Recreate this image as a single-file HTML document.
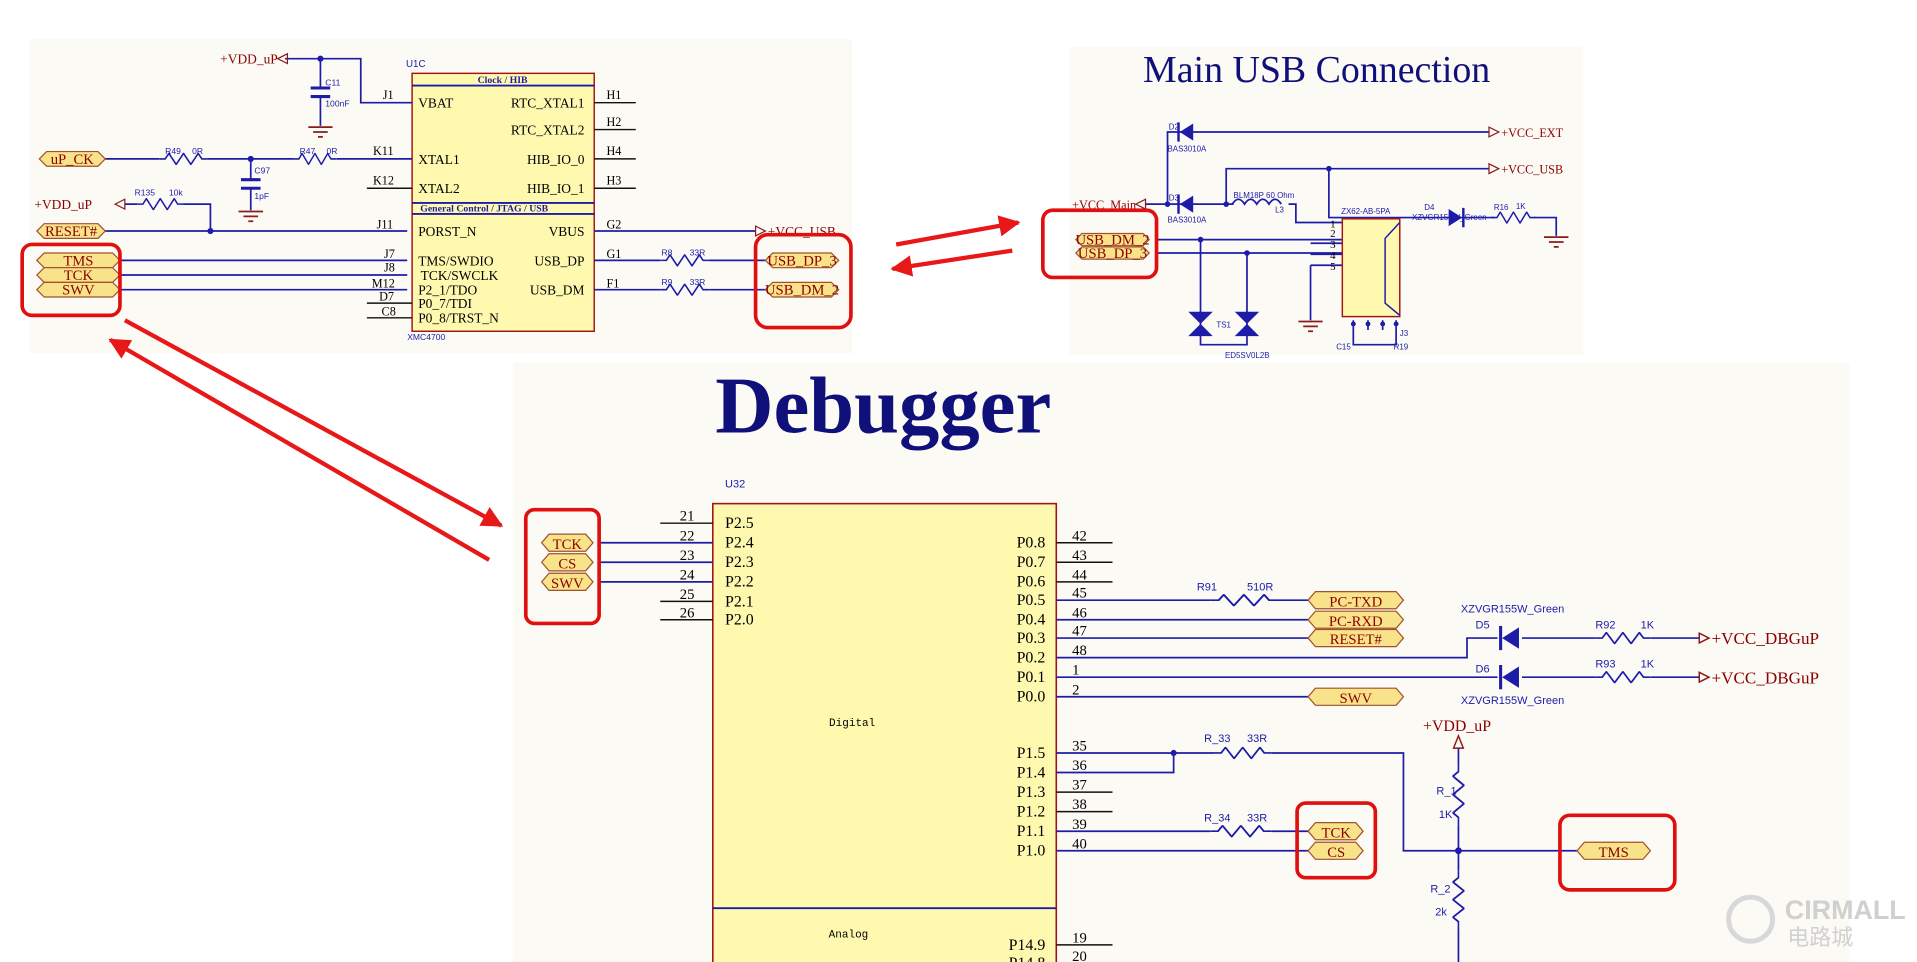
<!DOCTYPE html>
<html><head><meta charset="utf-8"><style>
html,body{margin:0;padding:0;background:#fff;}
svg{display:block}
.w{stroke:#1c1ca8;stroke-width:1.4;fill:none}
.p{stroke:#111;stroke-width:1.2;fill:none}
.t{font-family:"Liberation Serif",serif;fill:#000}
.s{font-family:"Liberation Sans",sans-serif;fill:#1c1ca8}
.lb{fill:#f9e38a;stroke:#a0522d;stroke-width:1}
.lt{font-family:"Liberation Serif",serif;fill:#8b0000;font-size:12px}
.pw{font-family:"Liberation Serif",serif;fill:#8b0000}
.rb{fill:none;stroke:#e01010;stroke-width:3}
.ar{stroke:#e81818;stroke-width:3.5;fill:none}
</style></head><body>
<svg width="1917" height="962" viewBox="0 0 1568 787" xmlns="http://www.w3.org/2000/svg">
<defs>
<symbol id="res" viewBox="0 0 40 10" preserveAspectRatio="none"><polyline points="0,5 5,5 8,0.5 14,9.5 20,0.5 26,9.5 32,0.5 35,5 40,5" fill="none" stroke="#1c1ca8" stroke-width="1.3"/></symbol>
<symbol id="rv" viewBox="0 0 10 40" preserveAspectRatio="none"><polyline points="5,0 5,5 0.5,8 9.5,14 0.5,20 9.5,26 0.5,32 5,35 5,40" fill="none" stroke="#1c1ca8" stroke-width="1.3"/></symbol>
<symbol id="dl" viewBox="0 0 20 16"><polygon points="16,1 16,15 5,8" fill="#1c1ca8"/><line x1="4" y1="0" x2="4" y2="16" stroke="#1c1ca8" stroke-width="2"/></symbol>
<symbol id="gnd" viewBox="0 0 20 12"><g stroke="#8b1a1a" stroke-width="1.4"><line x1="0" y1="1" x2="20" y2="1"/><line x1="4" y1="5" x2="16" y2="5"/><line x1="8" y1="9" x2="12" y2="9"/></g></symbol>
<marker id="ah" viewBox="0 0 10 10" refX="9" refY="5" markerWidth="5" markerHeight="5" orient="auto"><path d="M0,0 L10,5 L0,10 z" fill="#e81818"/></marker>
</defs>

<!-- panels -->
<rect x="24" y="32" width="673" height="257" fill="#fcfaf5"/>
<rect x="875" y="38" width="420" height="252" fill="#fcfaf5"/>
<rect x="420" y="297" width="1093" height="490" fill="#fcfaf5"/>

<!-- ===== Panel 1 ===== -->
<rect x="337" y="60" width="149" height="211" fill="#fff9b0" stroke="#a31515" stroke-width="1.2"/>
<line x1="337" y1="70" x2="486" y2="70" stroke="#1c1ca8" stroke-width="1.5"/>
<line x1="337" y1="166" x2="486" y2="166" stroke="#1c1ca8" stroke-width="1.5"/>
<line x1="337" y1="175" x2="486" y2="175" stroke="#1c1ca8" stroke-width="1.5"/>
<text x="411" y="68" class="t" font-size="8" font-weight="bold" fill="#1c1ca8" text-anchor="middle" style="fill:#1c1ca8">Clock / HIB</text>
<text x="396" y="173" class="t" font-size="8" font-weight="bold" text-anchor="middle" style="fill:#1c1ca8">General Control / JTAG / USB</text>
<text x="332" y="55" class="s" font-size="8">U1C</text>
<text x="333" y="278" class="s" font-size="7">XMC4700</text>
<g class="t" font-size="11">
<text x="342" y="88">VBAT</text><text x="342" y="134">XTAL1</text><text x="342" y="158">XTAL2</text>
<text x="342" y="193">PORST_N</text><text x="342" y="217">TMS/SWDIO</text><text x="344" y="229">TCK/SWCLK</text>
<text x="342" y="241">P2_1/TDO</text><text x="342" y="252">P0_7/TDI</text><text x="342" y="264">P0_8/TRST_N</text>
<text x="478" y="88" text-anchor="end">RTC_XTAL1</text><text x="478" y="110" text-anchor="end">RTC_XTAL2</text>
<text x="478" y="134" text-anchor="end">HIB_IO_0</text><text x="478" y="158" text-anchor="end">HIB_IO_1</text>
<text x="478" y="193" text-anchor="end">VBUS</text><text x="478" y="217" text-anchor="end">USB_DP</text><text x="478" y="241" text-anchor="end">USB_DM</text>
</g>
<g class="t" font-size="10">
<text x="313" y="81">J1</text><text x="305" y="127">K11</text><text x="305" y="151">K12</text><text x="308" y="187">J11</text>
<text x="314" y="211">J7</text><text x="314" y="222">J8</text><text x="304" y="235">M12</text><text x="310" y="246">D7</text><text x="312" y="258">C8</text>
<text x="496" y="81">H1</text><text x="496" y="103">H2</text><text x="496" y="127">H4</text><text x="496" y="151">H3</text>
<text x="496" y="187">G2</text><text x="496" y="211">G1</text><text x="496" y="235">F1</text>
</g>
<g class="p">
<line x1="300" y1="154" x2="337" y2="154"/><line x1="300" y1="248" x2="337" y2="248"/><line x1="300" y1="260" x2="337" y2="260"/>
<line x1="486" y1="84" x2="520" y2="84"/><line x1="486" y1="106" x2="520" y2="106"/><line x1="486" y1="130" x2="520" y2="130"/><line x1="486" y1="154" x2="520" y2="154"/>
</g>
<!-- wires -->
<g class="w">
<path d="M233,48 H295 V84 H337"/>
<line x1="262" y1="48" x2="262" y2="72"/><line x1="262" y1="80" x2="262" y2="103"/>
<line x1="254" y1="72" x2="270" y2="72" stroke-width="2.5"/><line x1="254" y1="79" x2="270" y2="79" stroke-width="2.5"/>
<path d="M86,130 H130 M170,130 H240 M275,130 H337"/>
<line x1="205" y1="130" x2="205" y2="147"/><line x1="205" y1="155" x2="205" y2="172"/>
<line x1="197" y1="147" x2="213" y2="147" stroke-width="2.5"/><line x1="197" y1="154" x2="213" y2="154" stroke-width="2.5"/>
<path d="M102,167 H112 M150,167 H172 V189"/>
<path d="M86,189 H333"/>
<path d="M98,213 H333 M98,225 H333 M98,237 H333"/>
<path d="M486,189 H618"/>
<path d="M486,213 H540 M580,213 H626 M486,237 H540 M580,237 H626"/>
</g>
<use href="#gnd" x="252" y="103" width="20" height="12"/>
<use href="#gnd" x="195" y="172" width="20" height="12"/>
<use href="#res" x="130" y="125" width="40" height="10"/>
<use href="#res" x="240" y="125" width="35" height="10"/>
<use href="#res" x="112" y="162" width="38" height="10"/>
<use href="#res" x="540" y="208" width="40" height="10"/>
<use href="#res" x="540" y="232" width="40" height="10"/>
<g fill="#1c1ca8"><circle cx="262" cy="48" r="2.5"/><circle cx="205" cy="130" r="2.5"/><circle cx="172" cy="189" r="2.5"/></g>
<g class="s" font-size="7" style="fill:#1c1ca8">
<text x="266" y="70">C11</text><text x="266" y="87">100nF</text><text x="208" y="142">C97</text><text x="208" y="163">1pF</text>
<text x="135" y="126">R49</text><text x="157" y="126">0R</text><text x="245" y="126">R47</text><text x="267" y="126">0R</text>
<text x="110" y="160">R135</text><text x="138" y="160">10k</text>
<text x="541" y="209">R8</text><text x="564" y="209">33R</text><text x="541" y="233">R9</text><text x="564" y="233">33R</text>
</g>
<text x="180" y="52" class="pw" font-size="11">+VDD_uP</text><polygon points="227,48 235,44 235,52" fill="none" stroke="#8b1a1a"/>
<text x="28" y="171" class="pw" font-size="11">+VDD_uP</text><polygon points="94,167 102,163 102,171" fill="none" stroke="#8b1a1a"/>
<polygon points="618,185 626,189 618,193" fill="none" stroke="#8b1a1a"/><text x="628" y="193" class="pw" font-size="11">+VCC_USB</text>
<!-- labels -->
<g>
<polygon class="lb" points="32,130 38,124 80,124 86,130 80,136 38,136"/><text class="lt" x="59" y="134" text-anchor="middle">uP_CK</text>
<polygon class="lb" points="30,189 36,183 80,183 86,189 80,195 36,195"/><text class="lt" x="58" y="193" text-anchor="middle" font-size="11">RESET#</text>
<polygon class="lb" points="30,213 36,207 92,207 98,213 92,219 36,219"/><text class="lt" x="64" y="217" text-anchor="middle">TMS</text>
<polygon class="lb" points="30,225 36,219 92,219 98,225 92,231 36,231"/><text class="lt" x="64" y="229" text-anchor="middle">TCK</text>
<polygon class="lb" points="30,237 36,231 92,231 98,237 92,243 36,243"/><text class="lt" x="64" y="241" text-anchor="middle">SWV</text>
<polygon class="lb" points="626,213 632,207 680,207 686,213 680,219 632,219"/><text class="lt" x="656" y="217" text-anchor="middle">USB_DP_3</text>
<polygon class="lb" points="626,237 632,231 680,231 686,237 680,243 632,243"/><text class="lt" x="656" y="241" text-anchor="middle">USB_DM_2</text>
</g>
<rect class="rb" x="18" y="200" width="80" height="58" rx="8"/>
<rect class="rb" x="618" y="192" width="78" height="76" rx="10"/>

<!-- ===== Panel 2 ===== -->
<text x="1077" y="67" font-family="Liberation Serif,serif" font-size="31" fill="#10107a" text-anchor="middle">Main USB Connection</text>
<g class="w">
<path d="M937,167 H1060 V182 H1098"/>
<path d="M955,167 V108 H1218"/>
<path d="M1003,167 V138 H1218"/>
<path d="M1087,138 V178 H1222 M1255,178 H1273 V193"/>
<path d="M946,196 H1098 M946,207 H1098"/>
<path d="M1072,199 H1098 M1072,208 H1098 M1072,217 H1098 M1072,217 V262"/>
<path d="M982,196 V282 H1020 V207"/>
<path d="M1107,262 V282 H1142 V262 M1119,262 V270 M1131,262 V270"/>
</g>
<rect x="1009" y="161" width="45" height="12" fill="#fcfaf5"/>
<path d="M1008,167 q5,-8 10,0 q5,-8 10,0 q5,-8 10,0 q5,-8 10,0" class="w"/>
<use href="#dl" x="960" y="100" width="20" height="16"/>
<use href="#dl" x="960" y="159" width="20" height="16"/>
<use href="#dl" x="1181" y="170" width="20" height="16" transform="rotate(180 1191 178)"/>
<use href="#res" x="1220" y="173" width="36" height="10"/>
<use href="#gnd" x="1263" y="193" width="20" height="12"/>
<use href="#gnd" x="1062" y="262" width="20" height="12"/>
<polygon points="972,255 992,255 982,265" fill="#1c1ca8"/><polygon points="972,275 992,275 982,265" fill="#1c1ca8"/>
<polygon points="1010,255 1030,255 1020,265" fill="#1c1ca8"/><polygon points="1010,275 1030,275 1020,265" fill="#1c1ca8"/>
<rect x="1098" y="179" width="47" height="80" fill="#fff9b0" stroke="#a31515" stroke-width="1.2"/>
<path d="M1145,182 L1133,195 V248 L1145,258" fill="none" stroke="#1c1ca8" stroke-width="1.2"/>
<g fill="#1c1ca8"><circle cx="955" cy="167" r="2.3"/><circle cx="1003" cy="167" r="2.3"/><circle cx="1087" cy="138" r="2.3"/><circle cx="982" cy="196" r="2.3"/><circle cx="1020" cy="207" r="2.3"/><circle cx="1107" cy="265" r="2"/><circle cx="1119" cy="265" r="2"/><circle cx="1131" cy="265" r="2"/><circle cx="1142" cy="265" r="2"/></g>
<g class="t" font-size="9"><text x="1088" y="186">1</text><text x="1088" y="194">2</text><text x="1088" y="203">3</text><text x="1088" y="212">4</text><text x="1088" y="221">5</text></g>
<g class="s" font-size="6.5" style="fill:#1c1ca8">
<text x="956" y="106">D2</text><text x="955" y="124">BAS3010A</text><text x="956" y="164">D3</text><text x="955" y="182">BAS3010A</text>
<text x="1009" y="162">BLM18P 60 Ohm</text><text x="1043" y="174">L3</text><text x="1097" y="175">ZX62-AB-5PA</text>
<text x="1165" y="172">D4</text><text x="1155" y="180">XZVGR155W_Green</text><text x="1222" y="172">R16</text><text x="1240" y="171">1K</text>
<text x="995" y="268">TS1</text><text x="1002" y="293">ED5SV0L2B</text><text x="1145" y="275">J3</text><text x="1093" y="286">C15</text><text x="1140" y="286">R19</text>
</g>
<text x="877" y="171" class="pw" font-size="10">+VCC_Main</text><polygon points="929,167 937,163 937,171" fill="none" stroke="#8b1a1a"/>
<polygon points="1218,104 1226,108 1218,112" fill="none" stroke="#8b1a1a"/><text x="1228" y="112" class="pw" font-size="10">+VCC_EXT</text>
<polygon points="1218,134 1226,138 1218,142" fill="none" stroke="#8b1a1a"/><text x="1228" y="142" class="pw" font-size="10">+VCC_USB</text>
<polygon class="lb" points="880,196 885,191 935,191 940,196 935,201 885,201"/><text class="lt" x="910" y="200" text-anchor="middle" font-size="10">USB_DM_2</text>
<polygon class="lb" points="880,207 885,202 935,202 940,207 935,212 885,212"/><text class="lt" x="910" y="211" text-anchor="middle" font-size="10">USB_DP_3</text>
<rect class="rb" x="853" y="172" width="93" height="55" rx="8"/>

<!-- arrows -->
<line class="ar" x1="733" y1="200" x2="833" y2="182" marker-end="url(#ah)"/>
<line class="ar" x1="828" y1="205" x2="730" y2="220" marker-end="url(#ah)"/>
<line class="ar" x1="102" y1="262" x2="410" y2="430" marker-end="url(#ah)"/>
<line class="ar" x1="400" y1="458" x2="90" y2="278" marker-end="url(#ah)"/>

<!-- ===== Panel 3 ===== -->
<text x="585" y="354" font-family="Liberation Serif,serif" font-size="66" font-weight="bold" fill="#10107a">Debugger</text>
<text x="593" y="399" class="s" font-size="9">U32</text>
<rect x="583" y="412" width="281" height="390" fill="#fff9b0" stroke="#a31515" stroke-width="1.3"/>
<line x1="583" y1="743" x2="864" y2="743" stroke="#1c1ca8" stroke-width="1.5"/>
<text x="697" y="594" font-family="Liberation Mono,monospace" font-size="9" text-anchor="middle">Digital</text>
<text x="694" y="767" font-family="Liberation Mono,monospace" font-size="9" text-anchor="middle">Analog</text>
<g class="p">
<line x1="540" y1="428" x2="583" y2="428"/><line x1="540" y1="492" x2="583" y2="492"/><line x1="540" y1="507" x2="583" y2="507"/>
<line x1="864" y1="444" x2="910" y2="444"/><line x1="864" y1="460" x2="910" y2="460"/><line x1="864" y1="476" x2="910" y2="476"/>
<line x1="864" y1="648" x2="910" y2="648"/><line x1="864" y1="664" x2="910" y2="664"/><line x1="864" y1="773" x2="910" y2="773"/>
</g>
<g class="w">
<path d="M490,444 H583 M490,460 H583 M490,476 H583"/>
<path d="M864,491 H990 M1045,491 H1070 M864,507 H1070 M864,522 H1070"/>
<path d="M864,538 H1200 V522 H1225 M1245,522 H1305 M1350,522 H1390"/>
<path d="M864,554 H1225 M1245,554 H1305 M1350,554 H1390"/>
<path d="M864,570 H1070"/>
<path d="M864,616 H993 M1040,616 H1148 V696 H1290 M864,632 H960 V616"/>
<path d="M864,680 H990 M1040,680 H1070 M864,696 H1070"/>
<path d="M1193,612 V625 M1193,675 V712 M1193,760 V787"/>
</g>
<use href="#res" x="990" y="486" width="55" height="10"/>
<use href="#res" x="1305" y="517" width="45" height="10"/>
<use href="#res" x="1305" y="549" width="45" height="10"/>
<use href="#res" x="993" y="611" width="47" height="10"/>
<use href="#res" x="990" y="675" width="50" height="10"/>
<use href="#rv" x="1188" y="625" width="10" height="50"/>
<use href="#rv" x="1188" y="712" width="10" height="48"/>
<use href="#dl" x="1222" y="512" width="26" height="20"/>
<use href="#dl" x="1222" y="544" width="26" height="20"/>
<g fill="#1c1ca8"><circle cx="960" cy="616" r="2.5"/><circle cx="1193" cy="696" r="2.8"/></g>
<g class="t" font-size="13">
<text x="593" y="432">P2.5</text><text x="593" y="448">P2.4</text><text x="593" y="464">P2.3</text><text x="593" y="480">P2.2</text><text x="593" y="496">P2.1</text><text x="593" y="511">P2.0</text>
<g text-anchor="end">
<text x="855" y="448">P0.8</text><text x="855" y="464">P0.7</text><text x="855" y="480">P0.6</text><text x="855" y="495">P0.5</text><text x="855" y="511">P0.4</text><text x="855" y="526">P0.3</text><text x="855" y="542">P0.2</text><text x="855" y="558">P0.1</text><text x="855" y="574">P0.0</text>
<text x="855" y="620">P1.5</text><text x="855" y="636">P1.4</text><text x="855" y="652">P1.3</text><text x="855" y="668">P1.2</text><text x="855" y="684">P1.1</text><text x="855" y="700">P1.0</text><text x="855" y="777">P14.9</text><text x="855" y="792">P14.8</text>
</g>
</g>
<g class="t" font-size="12">
<text x="556" y="426">21</text><text x="556" y="442">22</text><text x="556" y="458">23</text><text x="556" y="474">24</text><text x="556" y="490">25</text><text x="556" y="505">26</text>
<text x="877" y="442">42</text><text x="877" y="458">43</text><text x="877" y="474">44</text><text x="877" y="489">45</text><text x="877" y="505">46</text><text x="877" y="520">47</text><text x="877" y="536">48</text><text x="877" y="552">1</text><text x="877" y="568">2</text>
<text x="877" y="614">35</text><text x="877" y="630">36</text><text x="877" y="646">37</text><text x="877" y="662">38</text><text x="877" y="678">39</text><text x="877" y="694">40</text><text x="877" y="771">19</text><text x="877" y="786">20</text>
</g>
<g class="s" font-size="9" style="fill:#1c1ca8">
<text x="979" y="483">R91</text><text x="1020" y="483">510R</text>
<text x="1195" y="501">XZVGR155W_Green</text><text x="1207" y="514">D5</text><text x="1305" y="514">R92</text><text x="1342" y="514">1K</text>
<text x="1207" y="550">D6</text><text x="1305" y="546">R93</text><text x="1342" y="546">1K</text><text x="1195" y="576">XZVGR155W_Green</text>
<text x="985" y="607">R_33</text><text x="1020" y="607">33R</text><text x="985" y="672">R_34</text><text x="1020" y="672">33R</text>
<text x="1175" y="650">R_1</text><text x="1177" y="669">1K</text><text x="1170" y="730">R_2</text><text x="1174" y="749">2k</text>
</g>
<polygon points="1390,518 1398,522 1390,526" fill="none" stroke="#8b1a1a" stroke-width="1.2"/><text x="1400" y="527" class="pw" font-size="14">+VCC_DBGuP</text>
<polygon points="1390,550 1398,554 1390,558" fill="none" stroke="#8b1a1a" stroke-width="1.2"/><text x="1400" y="559" class="pw" font-size="14">+VCC_DBGuP</text>
<text x="1164" y="598" class="pw" font-size="13">+VDD_uP</text><polygon points="1189,612 1197,612 1193,602" fill="none" stroke="#8b1a1a" stroke-width="1.2"/>
<g>
<polygon class="lb" points="443,444 449,437 479,437 485,444 479,451 449,451"/><text class="lt" x="464" y="449" text-anchor="middle" font-size="14">TCK</text>
<polygon class="lb" points="443,460 449,453 479,453 485,460 479,467 449,467"/><text class="lt" x="464" y="465" text-anchor="middle" font-size="14">CS</text>
<polygon class="lb" points="443,476 449,469 479,469 485,476 479,483 449,483"/><text class="lt" x="464" y="481" text-anchor="middle" font-size="14">SWV</text>
<polygon class="lb" points="1070,491 1076,484 1142,484 1148,491 1142,498 1076,498"/><text class="lt" x="1109" y="496" text-anchor="middle" font-size="14">PC-TXD</text>
<polygon class="lb" points="1070,507 1076,500 1142,500 1148,507 1142,514 1076,514"/><text class="lt" x="1109" y="512" text-anchor="middle" font-size="14">PC-RXD</text>
<polygon class="lb" points="1070,522 1076,515 1142,515 1148,522 1142,529 1076,529"/><text class="lt" x="1109" y="527" text-anchor="middle" font-size="14">RESET#</text>
<polygon class="lb" points="1070,570 1076,563 1142,563 1148,570 1142,577 1076,577"/><text class="lt" x="1109" y="575" text-anchor="middle" font-size="14">SWV</text>
<polygon class="lb" points="1070,680 1076,673 1109,673 1115,680 1109,687 1076,687"/><text class="lt" x="1093" y="685" text-anchor="middle" font-size="14">TCK</text>
<polygon class="lb" points="1070,696 1076,689 1109,689 1115,696 1109,703 1076,703"/><text class="lt" x="1093" y="701" text-anchor="middle" font-size="14">CS</text>
<polygon class="lb" points="1290,696 1296,689 1344,689 1350,696 1344,703 1296,703"/><text class="lt" x="1320" y="701" text-anchor="middle" font-size="14">TMS</text>
</g>
<rect class="rb" x="430" y="417" width="60" height="93" rx="7"/>
<rect class="rb" x="1061" y="657" width="64" height="61" rx="7"/>
<rect class="rb" x="1276" y="667" width="94" height="61" rx="8"/>
<!-- watermark -->
<circle cx="1432" cy="752" r="18" fill="none" stroke="#d8d8d8" stroke-width="4"/>
<text x="1460" y="752" font-family="Liberation Sans,sans-serif" font-size="22" font-weight="bold" fill="#d0d0d0">CIRMALL</text>
<text x="1462" y="773" font-family="Liberation Sans,'Noto Sans CJK SC',sans-serif" font-size="18" fill="#d0d0d0">电路城</text>
</svg>
</body></html>
